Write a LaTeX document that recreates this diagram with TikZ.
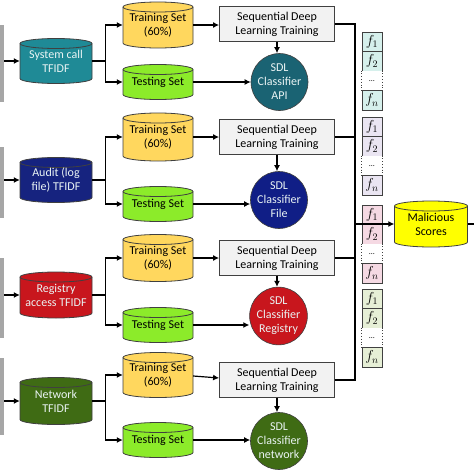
\documentclass[tikz,border=0pt]{standalone}
\usepackage{fontspec}
\setmainfont{Carlito}
\usetikzlibrary{arrows.meta,calc}
\definecolor{teal1}{HTML}{1F8A96}
\definecolor{teal2}{HTML}{1A6373}
\definecolor{navy1}{HTML}{16237F}
\definecolor{navy2}{HTML}{101E86}
\definecolor{red1}{HTML}{C8161D}
\definecolor{green1}{HTML}{3F6B14}
\definecolor{gold}{HTML}{FFD75E}
\definecolor{lime}{HTML}{8CEB2A}
\definecolor{yel}{HTML}{FFFF00}
\definecolor{boxfill}{HTML}{F2F2F2}
\definecolor{edge}{HTML}{404040}
\definecolor{fA}{HTML}{D6F0EC}
\definecolor{fB}{HTML}{EAE5F2}
\definecolor{fC}{HTML}{F5D9E3}
\definecolor{fD}{HTML}{E6EFD6}
\definecolor{lighttxt}{HTML}{EAF4F4}
\tikzset{
  txt/.style={font=\fontsize{12}{14}\selectfont,align=center},
  arr/.style={line width=1.2pt,-{Latex[length=6pt,width=6pt]}},
  ln/.style={line width=1.2pt},
  sdlbox/.style={txt,draw=edge,fill=boxfill,line width=0.8pt,minimum width=115pt,minimum height=35pt,inner sep=0pt},
  clf/.style={txt,circle,minimum size=57pt,inner sep=0pt,text=lighttxt,draw=edge,line width=0.6pt},
  cell/.style={draw=edge,line width=0.8pt,minimum width=20pt,minimum height=19.5pt,inner sep=0pt,font=\fontsize{14}{16}\selectfont},
  strip/.style={fill=gray!70,draw=none,minimum width=4pt,inner sep=0pt,anchor=north west}
}
% name, x, y, w, h, fill, draw, text colour, text
\newcommand\cylnode[9]{%
  \filldraw[fill=#6,draw=#7,line width=0.8pt]
    ({#2-#4/2},{#3+#5/2-5}) -- ({#2-#4/2},{#3-#5/2+5})
    arc[start angle=180,end angle=360,x radius=#4/2,y radius=5]
    -- ({#2+#4/2},{#3+#5/2-5})
    arc[start angle=0,end angle=180,x radius=#4/2,y radius=5] -- cycle;
  \draw[draw=#7,line width=0.8pt] ({#2-#4/2},{#3+#5/2-5})
    arc[start angle=180,end angle=360,x radius=#4/2,y radius=5];
  \node[txt,text=#8,minimum width=#4pt,minimum height=#5pt,inner sep=0pt] (#1) at (#2,#3) {#9};
}
\begin{document}
\begin{tikzpicture}[x=1pt,y=1pt]
\useasboundingbox (0,0) rectangle (474,-474);
\fill[white] (0,0) rectangle (474,-474);

% left strips
\node[strip,minimum height=77pt] (L1) at (0,-25) {};
\node[strip,minimum height=71pt] (L2) at (0,-147) {};
\node[strip,minimum height=80pt] (L3) at (0,-258) {};
\node[strip,minimum height=77pt] (L4) at (0,-358) {};

% sources
\cylnode{S1}{56}{-61}{72}{45}{teal1}{edge}{lighttxt}{System call\\TFIDF}
\cylnode{S2}{56}{-180}{72}{45}{navy1}{edge}{lighttxt}{Audit (log\\file) TFIDF}
\cylnode{S3}{56}{-295}{72}{46}{red1}{edge}{lighttxt}{Registry\\access TFIDF}
\cylnode{S4}{56}{-401}{72}{47}{green1}{edge}{lighttxt}{Network\\TFIDF}

% training sets
\cylnode{T1}{158}{-25}{70}{46}{gold}{edge}{black}{Training Set\\(60\%)}
\cylnode{T2}{158}{-137}{70}{48}{gold}{edge}{black}{Training Set\\(60\%)}
\cylnode{T3}{158}{-258}{70}{47}{gold}{edge}{black}{Training Set\\(60\%)}
\cylnode{T4}{158}{-375}{70}{45}{gold}{edge}{black}{Training Set\\(60\%)}

% testing sets
\cylnode{E1}{158}{-82}{70}{35}{lime}{edge}{black}{Testing Set}
\cylnode{E2}{158}{-204}{70}{35}{lime}{edge}{black}{Testing Set}
\cylnode{E3}{158}{-325}{70}{35}{lime}{edge}{black}{Testing Set}
\cylnode{E4}{158}{-440}{70}{35}{lime}{edge}{black}{Testing Set}

% SDL training boxes
\node[sdlbox] (B1) at (277,-24) {Sequential Deep\\Learning Training};
\node[sdlbox] (B2) at (277,-137) {Sequential Deep\\Learning Training};
\node[sdlbox] (B3) at (277,-258) {Sequential Deep\\Learning Training};
\node[sdlbox] (B4) at (277,-380) {Sequential Deep\\Learning Training};

% classifiers
\node[clf,fill=teal2] (C1) at (279.5,-82) {SDL\\Classifier\\API};
\node[clf,fill=navy2] (C2) at (279,-200) {SDL\\Classifier\\File};
\node[clf,fill=red1] (C3) at (278.5,-316) {SDL\\Classifier\\Registry};
\node[clf,fill=green1] (C4) at (279,-441) {SDL\\Classifier\\network};

% malicious scores
\cylnode{M}{431}{-224}{73}{46}{yel}{edge}{black}{Malicious\\Scores}
\coordinate (out) at (474,-224);
\coordinate (bus) at (355,-380);

% connectors
\foreach \i in {1,2,3,4}{
  \draw[arr] (L\i.east |- S\i.west) -- (S\i.west);
  \draw[arr] (S\i.east) -- ++(13,0) |- (T\i.west);
  \draw[arr] (S\i.east) -- ++(13,0) |- (E\i.west);
  \draw[arr] (B\i.south) -- (B\i.south |- C\i.north);
  \draw[arr] (E\i.east) -- (C\i.west |- E\i.east);
}
\draw[arr] (T1.east) -- (B1.west |- T1.east);
\draw[arr] (T2.east) -- (B2.west |- T2.east);
\draw[arr] (T3.east) -- (B3.west |- T3.east);
\draw[arr] ([yshift=-1pt]T4.east) -- ([yshift=2pt]B4.west);

\draw[ln] (B1.east) -| (bus) -- (B4.east);
\draw[ln] (B2.east) -- (B2.east -| bus);
\draw[ln] (B3.east) -- (B3.east -| bus);

% feature cells
\foreach \g/\ytop/\col in {1/32/fA,2/117/fB,3/205/fC,4/289/fD}{
  \node[cell,fill=\col] (f\g-1) at (372,{-\ytop-9.75}) {$f_1$};
  \node[cell,fill=\col] (f\g-2) at (372,{-\ytop-29.25}) {$f_2$};
  \node[cell,fill=white,draw=none] (f\g-3) at (372,{-\ytop-48.75}) {\raisebox{-2pt}{\footnotesize\ldots}};
  \draw[edge,line width=0.8pt,dotted] (f\g-3.north west) -- (f\g-3.south west)
        (f\g-3.north east) -- (f\g-3.south east);
  \node[cell,fill=\col] (f\g-4) at (372,{-\ytop-68.25}) {$f_n$};
}
\draw[arr] (M.west -| bus) -- (M.west);
\draw[ln] (M.east) -- (out);
\end{tikzpicture}
\end{document}
